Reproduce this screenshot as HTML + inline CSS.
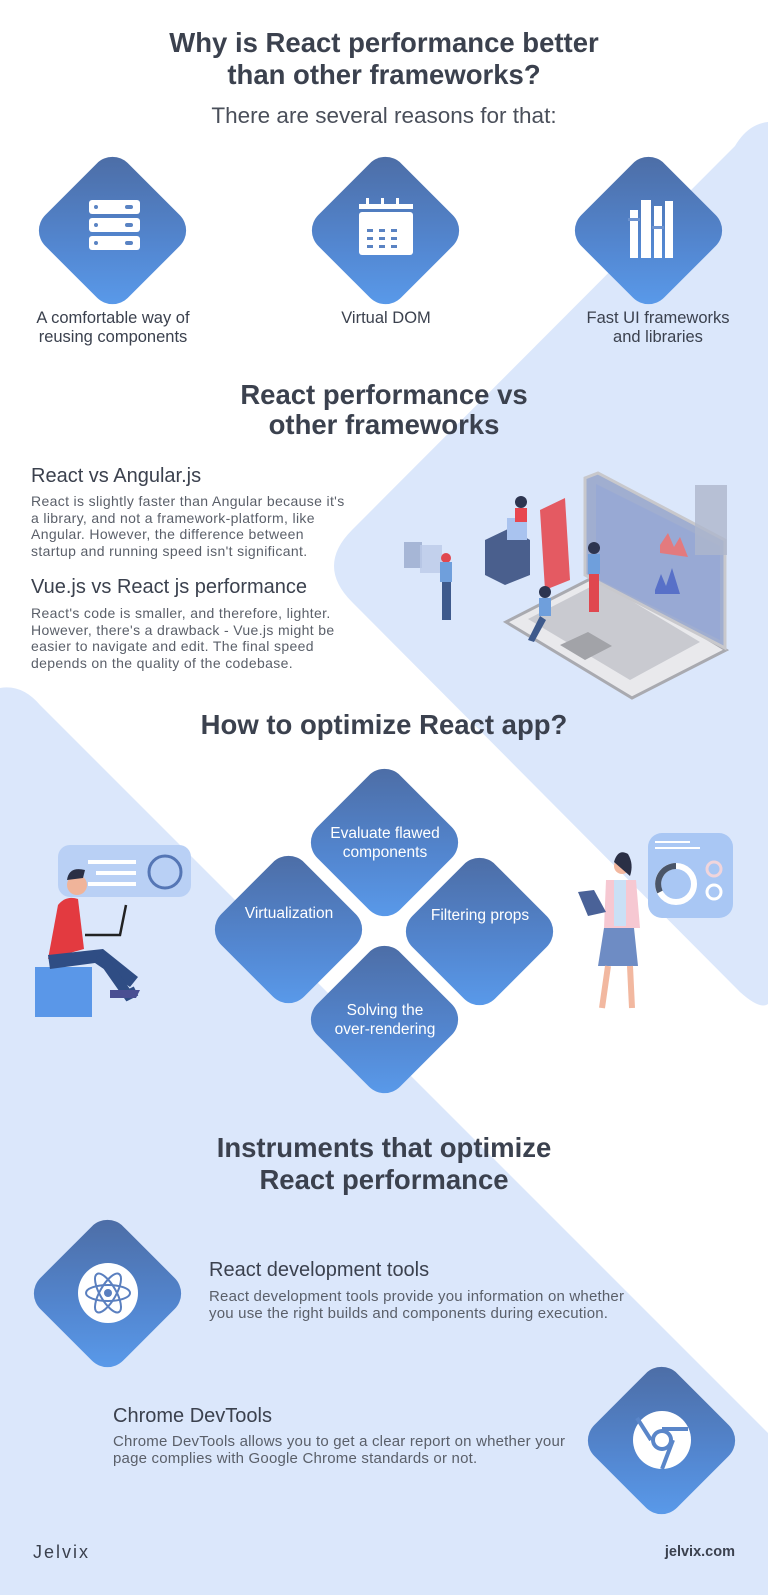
<!DOCTYPE html>
<html><head><meta charset="utf-8"><style>
*{margin:0;padding:0;box-sizing:border-box}
body{width:768px;height:1595px;position:relative;overflow:hidden;background:#fff;font-family:"Liberation Sans",Arial,sans-serif;color:#3a404c}
svg.bg{position:absolute;left:0;top:0}
.t{position:absolute;white-space:nowrap}
.h{font-weight:bold;font-size:27.5px;text-align:center;left:0;width:768px;color:#3b414e;line-height:32px}
.d{position:absolute;width:117px;height:117px;border-radius:22px;transform:rotate(45deg);background:linear-gradient(135deg,#4c6ba2 0%,#5387d1 60%,#5a9ced 100%)}
.lbl{position:absolute;color:#fff;font-size:15.5px;text-align:center;width:160px;line-height:19px}
.cap{position:absolute;font-size:16.5px;text-align:center;width:240px;line-height:19px;color:#3b414e}
.sh{font-size:20px;color:#3b414e}
.body{font-size:14px;letter-spacing:0.35px;color:#5a5f69;line-height:16.5px}
</style></head><body>
<svg class="bg" width="768" height="1595" viewBox="0 0 768 1595">
<path d="M768 122 Q748 124 735 146 L352 530 Q316 566 352 602 L740 992 Q760 1010 768 1004 Z" fill="#dbe7fb"/>
<path d="M0 688 Q22 684 40 705 L768 1433 L768 1595 L0 1595 Z" fill="#dbe7fb"/>
<g>
<polygon points="506,622 600,574 726,650 632,698" fill="#e9e9ec" stroke="#a9aab0" stroke-width="3"/>
<polygon points="528,619 600,582 700,642 630,680" fill="#c9cad0"/>
<polygon points="560,645 588,632 612,646 585,660" fill="#a2a3a8"/>
<polygon points="585,478 598,473 725,540 725,648 598,582 585,575" fill="#a0aed0" stroke="#c8c8cc" stroke-width="3"/>
<polygon points="596,484 720,546 720,640 596,578" fill="#98a9d4"/>
<path d="M660 545 l8 -12 l6 14 l6 -10 l8 20 l-28 -4z" fill="#e37a7e"/>
<path d="M655 590 l6 -16 l5 12 l6 -18 l8 26 l-25 0z" fill="#5870c8"/>
<rect x="695" y="485" width="32" height="70" fill="#aeb7cc" opacity=".8"/>
<polygon points="540,510 565,498 570,580 545,590" fill="#e45a62"/>
<polygon points="485,540 510,528 530,540 530,575 505,585 485,575" fill="#4a5f8d"/>
<rect x="507" y="518" width="20" height="22" fill="#a9c3ef"/>
<circle cx="521" cy="502" r="6" fill="#2d3550"/><rect x="515" y="508" width="12" height="14" fill="#e8474f"/>
<circle cx="594" cy="548" r="6" fill="#2d3550"/><rect x="588" y="554" width="12" height="20" fill="#6f9fdc"/><rect x="589" y="574" width="10" height="38" fill="#e0474f"/>
<circle cx="545" cy="592" r="6" fill="#2d3550"/><rect x="539" y="598" width="12" height="18" fill="#6f9fdc"/><path d="M540 616 l-12 24 l6 2 l12 -22z" fill="#3e5a8c"/>
<rect x="404" y="542" width="18" height="26" fill="#a6b6d6"/><rect x="420" y="545" width="22" height="28" fill="#bccbe8" opacity=".8"/>
<circle cx="446" cy="558" r="5" fill="#e0474f"/><rect x="440" y="562" width="12" height="20" fill="#6f9fdc"/><rect x="442" y="582" width="9" height="38" fill="#3e5a8c"/>
</g>
<g>
<rect x="58" y="845" width="133" height="52" rx="12" fill="#b9d0f5"/>
<rect x="88" y="860" width="48" height="4" fill="#fff"/><rect x="96" y="871" width="40" height="4" fill="#fff"/><rect x="88" y="882" width="48" height="4" fill="#fff"/>
<circle cx="165" cy="872" r="16" fill="none" stroke="#5576b5" stroke-width="3"/>
<rect x="35" y="967" width="57" height="50" fill="#5a97e8"/>
<circle cx="77" cy="885" r="10" fill="#f0b49a"/><path d="M67 880 q2 -14 18 -10 l-2 8z" fill="#2a2f45"/>
<path d="M58 905 q8 -10 20 -6 l6 50 l-36 10z" fill="#e33a40"/>
<path d="M48 955 l55 -6 l35 28 l-8 10 l-35 -24 l-45 6z" fill="#2f4d84"/>
<path d="M100 955 l28 40 l8 -4" stroke="#2f4d84" stroke-width="10" fill="none"/>
<path d="M110 990 l30 0 l-4 8 l-26 0z" fill="#4a4f92"/>
<path d="M85 935 l35 0 l6 -30" stroke="#222" stroke-width="2.5" fill="none"/>
</g>
<g>
<rect x="648" y="833" width="85" height="85" rx="14" fill="#a9c7f4"/>
<rect x="655" y="841" width="35" height="2" fill="#fff"/><rect x="655" y="847" width="45" height="2" fill="#fff"/>
<circle cx="676" cy="884" r="18" fill="none" stroke="#fff" stroke-width="6"/>
<path d="M676 866 a18 18 0 0 0 -16 26" fill="none" stroke="#4a5568" stroke-width="6"/>
<circle cx="714" cy="869" r="7" fill="none" stroke="#f0d5dc" stroke-width="3"/>
<circle cx="714" cy="892" r="7" fill="none" stroke="#fff" stroke-width="3"/>
<circle cx="622" cy="866" r="8" fill="#f2b8a0"/><path d="M614 862 q4 -14 14 -8 q6 10 2 22" fill="#2a2f45"/>
<path d="M606 880 l30 0 l4 48 l-36 0z" fill="#f6c8d2"/>
<rect x="614" y="880" width="12" height="46" fill="#c9e0f6"/>
<polygon points="578,892 594,890 606,912 588,916" fill="#4a6298"/>
<path d="M604 928 l30 0 l4 38 l-40 0z" fill="#6e8cc4"/>
<path d="M608 966 l-6 42 M630 966 l2 42" stroke="#f2b8a0" stroke-width="6"/>
</g>
</svg>
<div class="t h" style="top:27px">Why is React performance better</div>
<div class="t h" style="top:59px">than other frameworks?</div>
<div class="t" style="top:103px;left:0;width:768px;text-align:center;font-size:22.5px;color:#4a4f5a">There are several reasons for that:</div>
<div class="d" style="left:54px;top:172px"></div>
<div class="d" style="left:327px;top:172px"></div>
<div class="d" style="left:590px;top:172px"></div>
<div class="cap" style="left:-7px;top:309px">A comfortable way of<br>reusing components</div>
<div class="cap" style="left:266px;top:309px">Virtual DOM</div>
<div class="cap" style="left:538px;top:309px">Fast UI frameworks<br>and libraries</div>
<svg class="bg" width="768" height="320" style="top:0;pointer-events:none">
<g fill="#fff">
<rect x="89" y="200" width="51" height="14" rx="3"/><rect x="89" y="218" width="51" height="14" rx="3"/><rect x="89" y="236" width="51" height="14" rx="3"/>
<rect x="359" y="212" width="54" height="43" rx="3"/><rect x="359" y="204" width="54" height="5"/>
<rect x="366" y="198" width="3" height="10"/><rect x="381" y="198" width="3" height="10"/><rect x="396" y="198" width="3" height="10"/>
<rect x="630" y="210" width="8" height="48"/><rect x="641" y="200" width="10" height="58"/><rect x="654" y="206" width="8" height="52"/><rect x="665" y="201" width="8" height="57"/>
<rect x="628" y="218" width="12" height="3" fill="#6d93d0"/><rect x="652" y="226" width="12" height="3" fill="#6d93d0"/>
</g>
<g fill="#5a83c3">
<circle cx="96" cy="207" r="2"/><circle cx="96" cy="225" r="2"/><circle cx="96" cy="243" r="2"/>
<rect x="125" y="205" width="8" height="4" rx="2"/><rect x="125" y="223" width="8" height="4" rx="2"/><rect x="125" y="241" width="8" height="4" rx="2"/>
<rect x="367" y="229" width="6" height="3"/><rect x="379" y="229" width="6" height="3"/><rect x="391" y="229" width="6" height="3"/>
<rect x="367" y="237" width="6" height="3"/><rect x="379" y="237" width="6" height="3"/><rect x="391" y="237" width="6" height="3"/>
<rect x="367" y="245" width="6" height="3"/><rect x="379" y="245" width="6" height="3"/><rect x="391" y="245" width="6" height="3"/>
</g>
</svg>
<div class="t h" style="top:379px">React performance vs</div>
<div class="t h" style="top:409px">other frameworks</div>
<div class="t sh" style="left:31px;top:465px">React vs Angular.js</div>
<div class="t body" style="left:31px;top:493px">React is slightly faster than Angular because it's<br>a library, and not a framework-platform, like<br>Angular. However, the difference between<br>startup and running speed isn't significant.</div>
<div class="t sh" style="left:31px;top:576px">Vue.js vs React js performance</div>
<div class="t body" style="left:31px;top:605px">React's code is smaller, and therefore, lighter.<br>However, there's a drawback - Vue.js might be<br>easier to navigate and edit. The final speed<br>depends on the quality of the codebase.</div>
<div class="t h" style="top:709px">How to optimize React app?</div>
<div class="d" style="left:326px;top:784px"></div>
<div class="d" style="left:230px;top:871px"></div>
<div class="d" style="left:421px;top:873px"></div>
<div class="d" style="left:326px;top:961px"></div>
<div class="lbl" style="left:305px;top:824px">Evaluate flawed<br>components</div>
<div class="lbl" style="left:209px;top:904px">Virtualization</div>
<div class="lbl" style="left:400px;top:906px">Filtering props</div>
<div class="lbl" style="left:305px;top:1001px">Solving the<br>over-rendering</div>
<div class="t h" style="top:1132px">Instruments that optimize</div>
<div class="t h" style="top:1164px">React performance</div>
<div class="d" style="left:49px;top:1235px"></div>
<div class="d" style="left:603px;top:1382px"></div>
<svg class="bg" width="768" height="1595" style="pointer-events:none">
<circle cx="108" cy="1293" r="30" fill="#fff"/>
<g fill="none" stroke="#5a7fbf" stroke-width="2">
<ellipse cx="108" cy="1293" rx="22" ry="8"/>
<ellipse cx="108" cy="1293" rx="22" ry="8" transform="rotate(60 108 1293)"/>
<ellipse cx="108" cy="1293" rx="22" ry="8" transform="rotate(-60 108 1293)"/>
</g>
<circle cx="108" cy="1293" r="4" fill="#5a7fbf"/>
<circle cx="662" cy="1440" r="29" fill="#fff"/>
<circle cx="662" cy="1440" r="11" fill="#5a86c9"/>
<circle cx="662" cy="1440" r="7" fill="#fff"/>
<path d="M651 1440 L637 1418 M673 1440 L662 1469 M662 1429 L688 1429" stroke="#5a86c9" stroke-width="4"/>
</svg>
<div class="t sh" style="left:209px;top:1259px">React development tools</div>
<div class="t body" style="left:209px;top:1289px;font-size:15px;letter-spacing:0.2px">React development tools provide you information on whether<br>you use the right builds and components during execution.</div>
<div class="t sh" style="left:113px;top:1405px">Chrome DevTools</div>
<div class="t body" style="left:113px;top:1434px;font-size:15px;letter-spacing:0.2px">Chrome DevTools allows you to get a clear report on whether your<br>page complies with Google Chrome standards or not.</div>
<div class="t" style="left:33px;top:1542px;font-size:18px;letter-spacing:2px;color:#3b414e">Jelvix</div>
<div class="t" style="right:33px;top:1544px;font-size:14.5px;font-weight:bold;color:#3b414e">jelvix.com</div>
</body></html>
